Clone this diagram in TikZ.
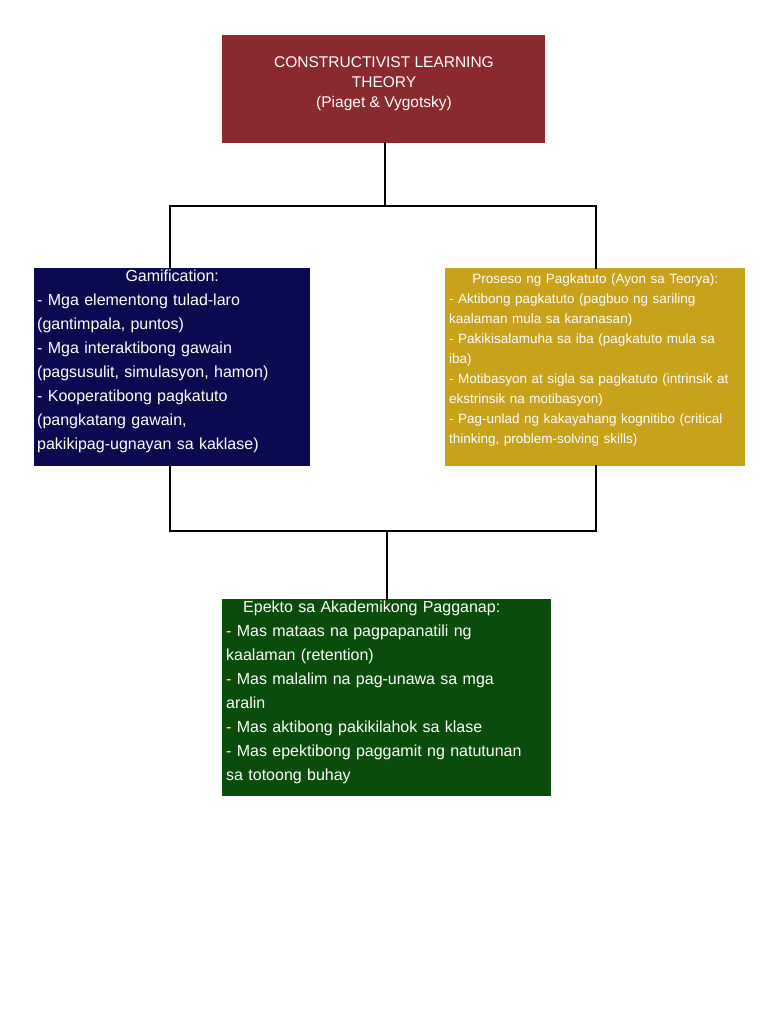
\documentclass[tikz,border=0pt]{standalone}
\usepackage{fontspec}
\setmainfont{Liberation Sans}
\definecolor{cred}{HTML}{8B2A2E}
\definecolor{cnavy}{HTML}{0A0A50}
\definecolor{cgold}{HTML}{C9A21C}
\definecolor{cgreen}{HTML}{0A4D0A}
\begin{document}
\begin{tikzpicture}[x=1pt,y=-1pt,
  box/.style={anchor=north west,inner sep=0pt,text=white,minimum height=#1},
  conn/.style={line width=2.2pt,line cap=rect}]
\useasboundingbox[fill=white] (0,0) rectangle (768,1024);
\fill[cred] (222,35) rectangle (545,143);
\fill[cnavy] (34,268) rectangle (310,466);
\fill[cgold] (445,268) rectangle (745,466);
\fill[cgreen] (222,599) rectangle (551,796);
\node (top) [text=white,align=center,font=\fontsize{15.5}{20}\selectfont] at (384,84) {CONSTRUCTIVIST LEARNING\\THEORY\\(Piaget \& Vygotsky)};
\node (left) [anchor=north west,text=white,text width=270pt,inner sep=0pt,font=\fontsize{16}{24}\selectfont] at (37,270)
{\centering Gamification:\par\raggedright
- Mga elementong tulad-laro (gantimpala, puntos)\par
- Mga interaktibong gawain (pagsusulit, simulasyon, hamon)\par
- Kooperatibong pagkatuto (pangkatang gawain, pakikipag-ugnayan sa kaklase)\par};
\node (right) [anchor=north west,text=white,text width=292pt,inner sep=0pt,font=\fontsize{13.5}{20}\selectfont] at (449,274)
{\centering Proseso ng Pagkatuto (Ayon sa Teorya):\par\raggedright
- Aktibong pagkatuto (pagbuo ng sariling kaalaman mula sa karanasan)\par
- Pakikisalamuha sa iba (pagkatuto mula sa iba)\par
- Motibasyon at sigla sa pagkatuto (intrinsik at ekstrinsik na motibasyon)\par
- Pag-unlad ng kakayahang kognitibo (critical thinking, problem-solving skills)\par};
\node (bot) [anchor=north west,text=white,text width=300pt,inner sep=0pt,font=\fontsize{16}{24}\selectfont] at (226,601)
{\hspace*{17pt}Epekto sa Akademikong Pagganap:\par\raggedright
- Mas mataas na pagpapanatili ng kaalaman (retention)\par
- Mas malalim na pag-unawa sa mga aralin\par
- Mas aktibong pakikilahok sa klase\par
- Mas epektibong paggamit ng natutunan sa totoong buhay\par};
\coordinate (t0) at (385,143);
\coordinate (j1) at (385,206);
\coordinate (a1) at (170,206);
\coordinate (b1) at (596,206);
\coordinate (a2) at (170,268);
\coordinate (b2) at (596,268);
\coordinate (a3) at (170,466);
\coordinate (b3) at (596,466);
\coordinate (a4) at (170,531);
\coordinate (b4) at (596,531);
\coordinate (j2) at (387,531);
\coordinate (g0) at (387,599);
\draw[conn] (t0) -- (j1);
\draw[conn] (a2) -- (a1) -- (b1) -- (b2);
\draw[conn] (a3) -- (a4) -- (b4) -- (b3);
\draw[conn] (j2) -- (g0);
\end{tikzpicture}
\end{document}
